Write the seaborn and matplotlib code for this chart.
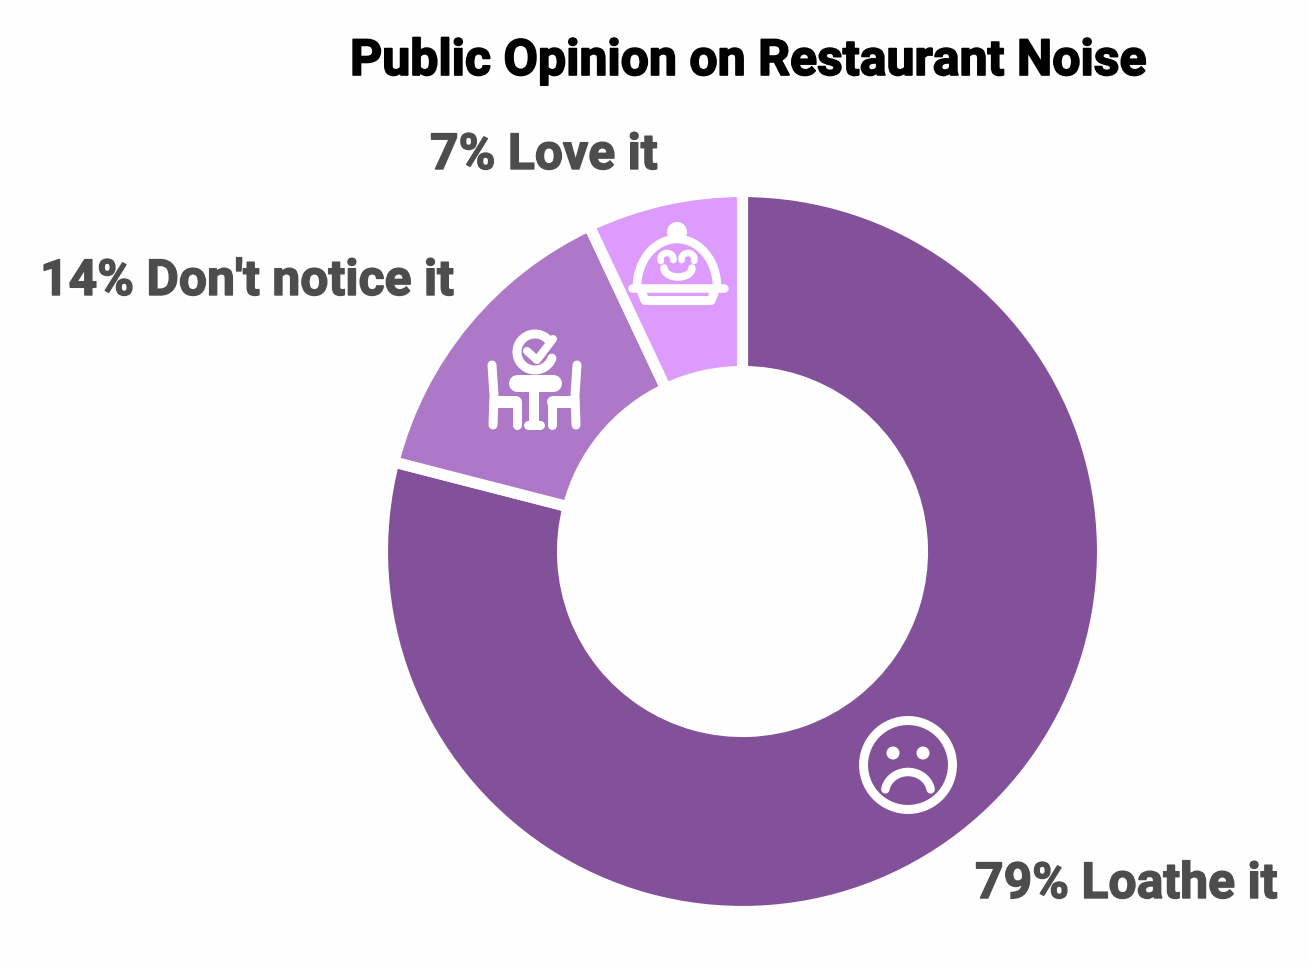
import numpy as np
import matplotlib.pyplot as plt
import matplotlib.patheffects as pe
import seaborn as sns

# donnees
categories = ["Loathe it", "Don't notice it", "Love it"]
values = [79, 14, 7]
colors = ["#82519A", "#AE78C8", "#DD9CFD"]
title = "Public Opinion on Restaurant Noise"

sns.set_theme(style="white")
plt.rcParams['font.family'] = ['Roboto', 'DejaVu Sans']

BG = "#FEFEFE"
TXT = "#4D4D4D"

fig = plt.figure(figsize=(13.08, 9.66), dpi=100, facecolor=BG)

# anneau
ax = fig.add_axes([0, 0, 1, 1])
ax.set_facecolor("none")
ax.pie(values, colors=sns.color_palette(colors), startangle=90, counterclock=False,
       center=(742.5, 966 - 551.5), radius=360,
       wedgeprops=dict(width=180, edgecolor=BG, linewidth=8))
ax.set_xlim(0, 1308)
ax.set_ylim(0, 966)
ax.set_aspect("equal")
ax.axis("off")

# calque en pixels pour textes et icones
top = fig.add_axes([0, 0, 1, 1])
top.set_xlim(0, 1308)
top.set_ylim(966, 0)
top.axis("off")
top.patch.set_alpha(0)

top.text(748, 75, title, fontsize=36, fontweight="bold", color="black", ha="center", va="baseline",
         path_effects=[pe.withStroke(linewidth=1.2, foreground="black")])

label_pos = [(975, 898), (40, 295), (430, 169)]
for name, val, (x, y) in zip(categories, values, label_pos):
    top.text(x, y, f"{val}% {name}", fontsize=35.9, fontweight="bold", color=TXT, ha="left", va="baseline",
             path_effects=[pe.withStroke(linewidth=1.0, foreground=TXT)])


def line(xs, ys, w=8):
    top.plot(xs, ys, color="white", lw=w * 0.72, solid_capstyle="round", solid_joinstyle="round")


def arc(cx, cy, rx, ry, a0, a1, w=8):
    t = np.radians(np.linspace(a0, a1, 60))
    line(cx + rx * np.cos(t), cy - ry * np.sin(t), w)


def dot(cx, cy, r):
    top.add_patch(plt.Circle((cx, cy), r, color="white", lw=0))


# icone cloche
dot(677, 232, 10)
arc(677, 287, 40, 48, 0, 180, 8.5)
line([632, 724], [287.5, 287.5], 8.5)
line([642, 645, 711, 714], [293, 300.5, 300.5, 293], 9)
arc(667, 259, 6.5, 6, -10, 200, 6.5)
arc(688, 259, 6.5, 6, -20, 190, 6.5)
arc(678, 268, 14, 9, 180, 360, 7.5)

# icone table
arc(535, 352, 18, 18, 40, 340, 9)
line([527, 537, 553], [351, 360, 339], 8)
line([517, 553], [383, 383], 17)
line([534, 534], [390, 423], 10)
line([528, 540], [425, 425], 9)
line([492, 494, 493], [365, 395, 425], 9)
line([498, 516], [402, 402], 12)
line([517, 517], [403, 425], 9)
line([577, 575, 576], [365, 395, 425], 9)
line([553, 571], [402, 402], 12)
line([552, 552], [403, 425], 9)

# icone visage
arc(908, 765, 44.5, 44.5, 0, 360, 9)
dot(893, 753, 6.5)
dot(923, 753, 6.5)
arc(908, 793, 23, 21, 10, 170, 8.5)

fig.savefig("out.png", dpi=100, facecolor=BG)
